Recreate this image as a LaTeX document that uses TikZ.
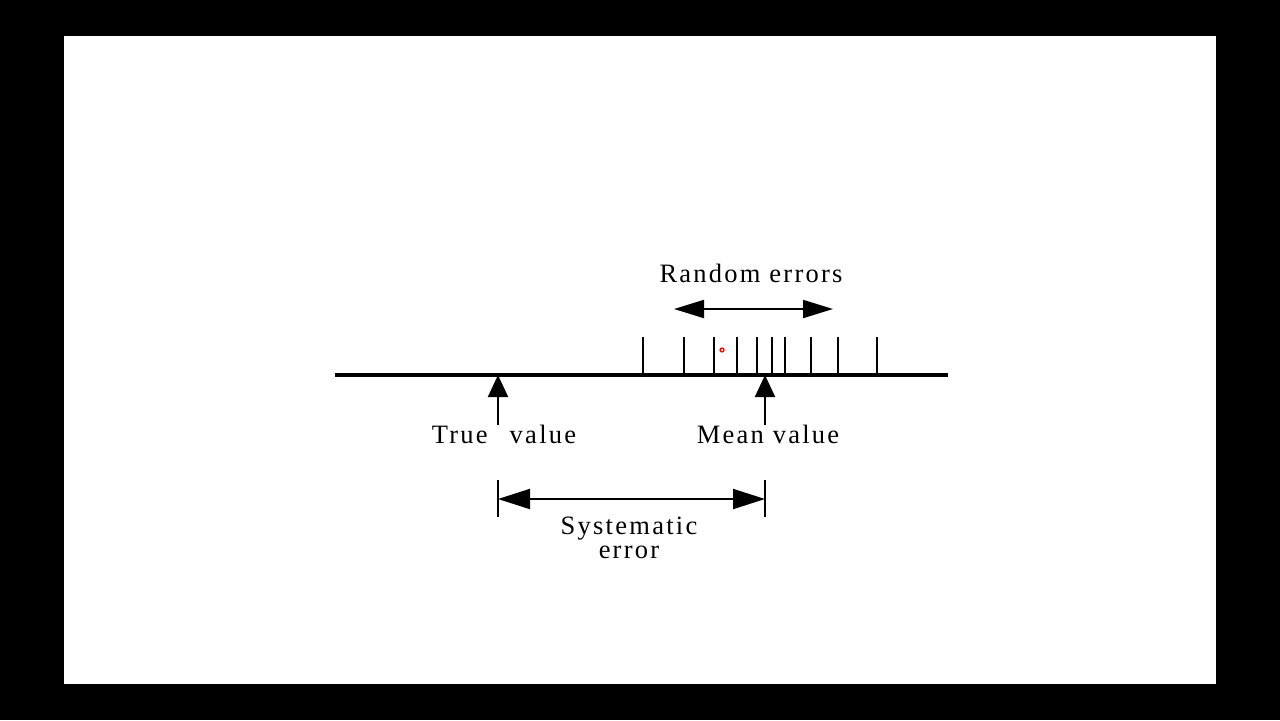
\documentclass[tikz,border=0pt]{standalone}
\usepackage{fontspec}
\setmainfont{Liberation Serif}[LetterSpace=8.5]
\usetikzlibrary{arrows.meta,positioning}

\begin{document}
\begin{tikzpicture}[
  x=0.5pt, y=-0.5pt,
  every node/.style={font=\fontsize{13.25}{15}\selectfont, inner sep=0pt, anchor=base},
  axis/.style={line width=2pt},
  tick/.style={line width=1pt},
  pointer/.style={line width=1pt, -{Triangle[length=11pt,width=10pt]}},
  span/.style={line width=1pt,
               {Triangle[length=15pt,width=9pt]}-{Triangle[length=15pt,width=9pt]}},
  sysspan/.style={line width=1pt,
               {Triangle[length=16pt,width=10pt]}-{Triangle[length=16pt,width=10pt]}}
]
  \fill[black] (0,0) rectangle (1280,720);
  \fill[white] (64,36) rectangle (1216,684);
  \useasboundingbox (0,0) rectangle (1280,720);

  % number line with the readings
  \coordinate (lineL) at (335,375);
  \coordinate (lineR) at (948,375);
  \draw[axis] (lineL) -- (lineR);
  \foreach \x in {643,684,714,737,757,772,785,811,838,877}
    \draw[tick] (\x,375) -- (\x,337);
  \draw[red, fill=red!15, line width=0.6pt] (722,350) circle[radius=2];

  % random errors
  \node (randLbl) at (751,282) {Random errors};
  \coordinate (randL) at (674,309);
  \coordinate (randR) at (833,309);
  \draw[span] (randL) -- (randR);

  % true and mean values
  \coordinate (trueTip) at (498,375);
  \coordinate (trueFoot) at (498,425);
  \coordinate (meanTip) at (765,375);
  \coordinate (meanFoot) at (765,425);
  \draw[pointer] (trueFoot) -- (trueTip);
  \draw[pointer] (meanFoot) -- (meanTip);
  \node (trueLbl) at (504,443) {True\hspace{11pt}value};
  \node (meanLbl) at (768,443) {Mean value};

  % systematic error
  \coordinate (sysL) at (498,499);
  \coordinate (sysR) at (765,499);
  \draw[tick] (498,480) -- (498,517);
  \draw[tick] (765,480) -- (765,517);
  \draw[sysspan] (sysL) -- (sysR);
  \node[align=center, font=\fontsize{13.25}{12}\selectfont] (sysLbl) at (629,558)
    {Systematic\\error};
\end{tikzpicture}
\end{document}
